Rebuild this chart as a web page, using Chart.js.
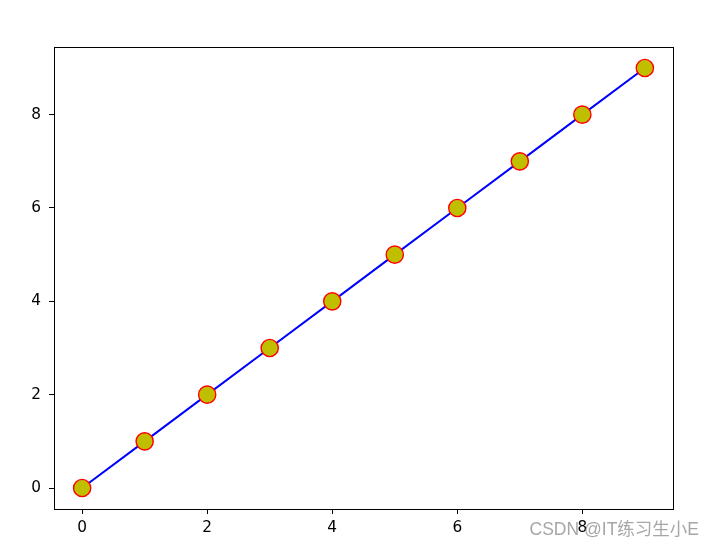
<!DOCTYPE html>
<html>
<head>
<meta charset="utf-8">
<script src="https://cdn.jsdelivr.net/npm/chart.js@4/dist/chart.umd.min.js"></script>
<style>
  html, body { margin: 0; padding: 0; background: #fff; }
  #wrap { width: 713px; height: 548px; }
</style>
</head>
<body>
<div id="wrap"><canvas id="chart" width="713" height="548"></canvas></div>
<script>
const xValues = [0, 1, 2, 3, 4, 5, 6, 7, 8, 9];
const yValues = [0, 1, 2, 3, 4, 5, 6, 7, 8, 9];
const xTicks = [0, 2, 4, 6, 8];
const yTicks = [0, 2, 4, 6, 8];
const watermark = 'CSDN @IT练习生小E';

const tickFont = { family: 'DejaVu Sans', size: 15.3 };

// box around the plot + watermark text
const frame = {
  id: 'frame',
  afterDraw(chart) {
    const { ctx, chartArea: a } = chart;
    ctx.save();
    ctx.strokeStyle = '#000';
    ctx.lineWidth = 1;
    ctx.strokeRect(Math.round(a.left) + 0.5, Math.round(a.top) + 0.5,
      Math.round(a.right - a.left), Math.round(a.bottom - a.top));
    ctx.font = '17.5px "Liberation Sans", "Noto Sans CJK SC", sans-serif';
    ctx.fillStyle = 'rgba(150,150,150,0.85)';
    ctx.textBaseline = 'middle';
    ctx.textAlign = 'right';
    ctx.fillText(watermark, 699, 530);
    ctx.restore();
  }
};

new Chart(document.getElementById('chart'), {
  type: 'line',
  data: {
    datasets: [{
      data: xValues.map((x, i) => ({ x: x, y: yValues[i] })),
      borderColor: 'blue',
      borderWidth: 2,
      pointRadius: 8.6,
      pointBorderWidth: 1.4,
      pointBackgroundColor: '#bfbf00',
      pointBorderColor: 'red',
      tension: 0
    }]
  },
  options: {
    responsive: false,
    animation: false,
    layout: { padding: { top: 47, right: 40, left: 0, bottom: 0 } },
    plugins: { legend: { display: false }, tooltip: { enabled: false } },
    scales: {
      x: {
        type: 'linear',
        min: -0.45,
        max: 9.45,
        afterBuildTicks: s => { s.ticks = xTicks.map(v => ({ value: v })); },
        afterFit: s => { s.height = 39; },
        grid: { drawOnChartArea: false, drawTicks: true, tickLength: 5, color: '#000' },
        border: { display: true, color: '#000', width: 1 },
        ticks: { color: '#000', font: tickFont, padding: 5, maxRotation: 0 }
      },
      y: {
        type: 'linear',
        min: -0.45,
        max: 9.45,
        afterBuildTicks: s => { s.ticks = yTicks.map(v => ({ value: v })); },
        afterFit: s => { s.width = 54; },
        grid: { drawOnChartArea: false, drawTicks: true, tickLength: 5, color: '#000' },
        border: { display: true, color: '#000', width: 1 },
        ticks: { color: '#000', font: tickFont, padding: 8 }
      }
    }
  },
  plugins: [frame]
});
</script>
</body>
</html>
